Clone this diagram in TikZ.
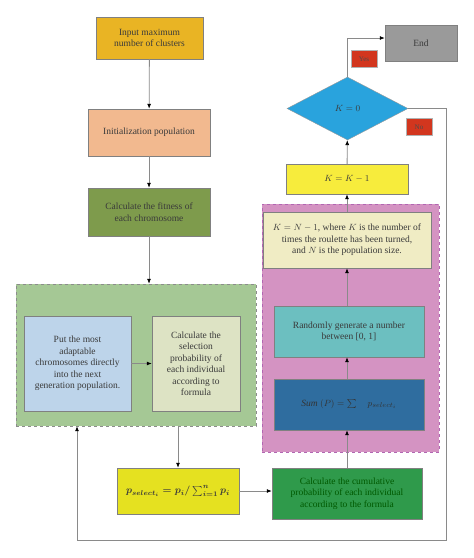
\documentclass[tikz,border=0pt]{standalone}
\usepackage{fontspec}
\setmainfont{Liberation Serif}
\usepackage{amsmath}
\usetikzlibrary{arrows.meta,positioning,calc,shapes.geometric}

\definecolor{cinput}{HTML}{E9B424}
\definecolor{cinit}{HTML}{F2B98F}
\definecolor{cfit}{HTML}{7E9B4C}
\definecolor{cgreg}{HTML}{A5C895}
\definecolor{cput}{HTML}{BDD4EA}
\definecolor{csel}{HTML}{DDE3C4}
\definecolor{cform}{HTML}{E5E120}
\definecolor{ccum}{HTML}{2F9A4B}
\definecolor{cpink}{HTML}{D493C2}
\definecolor{ckn}{HTML}{F0ECC4}
\definecolor{crand}{HTML}{6CBFC0}
\definecolor{csum}{HTML}{2F6D9F}
\definecolor{ckk}{HTML}{F7EC3C}
\definecolor{cdia}{HTML}{29A3DD}
\definecolor{cend}{HTML}{9A9A9A}
\definecolor{ctag}{HTML}{D2361E}
\definecolor{cline}{HTML}{8A8A8A}
\definecolor{ctext}{HTML}{3A3A3A}

\begin{document}
\begin{tikzpicture}[
    x=1pt, y=-1pt,
    proc/.style={rectangle, draw=black!50, thin, align=center, inner sep=0pt,
                 text=ctext, font=\fontsize{9.5}{11.5}\selectfont},
    region/.style={rectangle, dashed, thin, inner sep=0pt},
    tag/.style={rectangle, fill=ctag, draw=black!30, thin, inner sep=0pt,
                minimum width=26pt, minimum height=17pt, text=black!70,
                font=\fontsize{7}{8}\selectfont},
    flow/.style={draw=cline, thick, -{Latex[length=5pt,width=4pt,color=black]}}
]
\useasboundingbox (0,0) rectangle (474,558);
% left column
\node[proc, fill=cinput, minimum width=107pt, minimum height=42pt] (input) at (149.5,38) {Input maximum\\number of clusters};
\node[proc, fill=cinit, minimum width=122pt, minimum height=47pt] (init) at (149,132.5) {Initialization population};
\node[proc, fill=cfit, minimum width=122pt, minimum height=48pt] (fit) at (149,212) {Calculate the fitness of\\each chromosome};
% green region
\node[region, fill=cgreg, draw=black!45, minimum width=240pt, minimum height=142pt] (greg) at (136,355) {};
\node[proc, fill=cput, minimum width=107pt, minimum height=95pt] (put) at (77.5,363.5) {Put the most\\adaptable\\chromosomes directly\\into the next\\generation population.};
\node[proc, fill=csel, minimum width=88pt, minimum height=95pt] (sel) at (196,363.5) {Calculate the\\selection\\probability of\\each individual\\according to\\formula};
% bottom row
\node[proc, fill=cform, minimum width=122pt, minimum height=46pt, font=\fontsize{10}{12}\selectfont] (form) at (178,491) {$\boldsymbol{p_{select_i} = p_i/\sum_{i=1}^{n} p_i}$};
\node[proc, fill=ccum, minimum width=150pt, minimum height=51pt, text=green!35!black] (cum) at (347,493.5) {Calculate the cumulative\\probability of each individual\\according to the formula};
% pink region
\node[region, fill=cpink, draw=violet!60, minimum width=177pt, minimum height=248pt] (preg) at (350.5,328) {};
\node[proc, fill=ckn, minimum width=168pt, minimum height=56pt] (kn) at (347,240) {$K = N - 1$, where $K$ is the number of\\times the roulette has been turned,\\and $N$ is the population size.};
\node[proc, fill=crand, minimum width=150pt, minimum height=51pt] (rand) at (349,331.5) {Randomly generate a number\\between [0, 1]};
\node[proc, fill=csum, minimum width=150pt, minimum height=51pt, text=black!80] (sum) at (349,404.5) {$\mathit{Sum}\ (P) = \sum\limits^{\phantom{n}}_{\phantom{i}}\quad p_{select_i}$};
% right column
\node[proc, fill=ckk, minimum width=122pt, minimum height=30pt] (kk) at (347,179) {$K = K - 1$};
\node[diamond, aspect=1.9, fill=cdia, draw=black!40, thin, inner sep=0pt, minimum width=121pt, minimum height=63pt, text=ctext, font=\fontsize{9.5}{11.5}\selectfont] (dia) at (347.5,108.5) {$K = 0$};
\node[proc, fill=cend, minimum width=72pt, minimum height=36pt] (end) at (421,43) {End};
\node[tag] (yes) at (364,59) {Yes};
\node[tag] (no) at (419,127) {No};
\coordinate (top) at (347.5,38);
\coordinate (ne) at (446,108.5);
\coordinate (se) at (446,540);
\coordinate (sw) at (77,540);
% connectors
\draw[flow] (input) -- (init);
\draw[flow] (init) -- (fit);
\draw[flow] (fit) -- (fit.south |- greg.north);
\draw[flow] (put) -- (sel);
\draw[flow] (form.north |- greg.south) -- (form.north);
\draw[flow] (form.east) -- (form.east -| cum.west);
\draw[flow] (cum.north) -- (cum.north |- sum.south);
\draw[flow] (sum.north -| kn.south) -- (rand.south -| kn.south);
\draw[flow] (rand.north -| kn.south) -- (kn.south);
\draw[flow] (kn) -- (kk);
\draw[flow] (kk) -- (dia);
\draw[flow] (dia.north) -- (top) -- (end.west |- top);
\draw[flow] (dia.east) -- (ne) -- (se) -- (sw) -- (sw |- greg.south);
\end{tikzpicture}
\end{document}
